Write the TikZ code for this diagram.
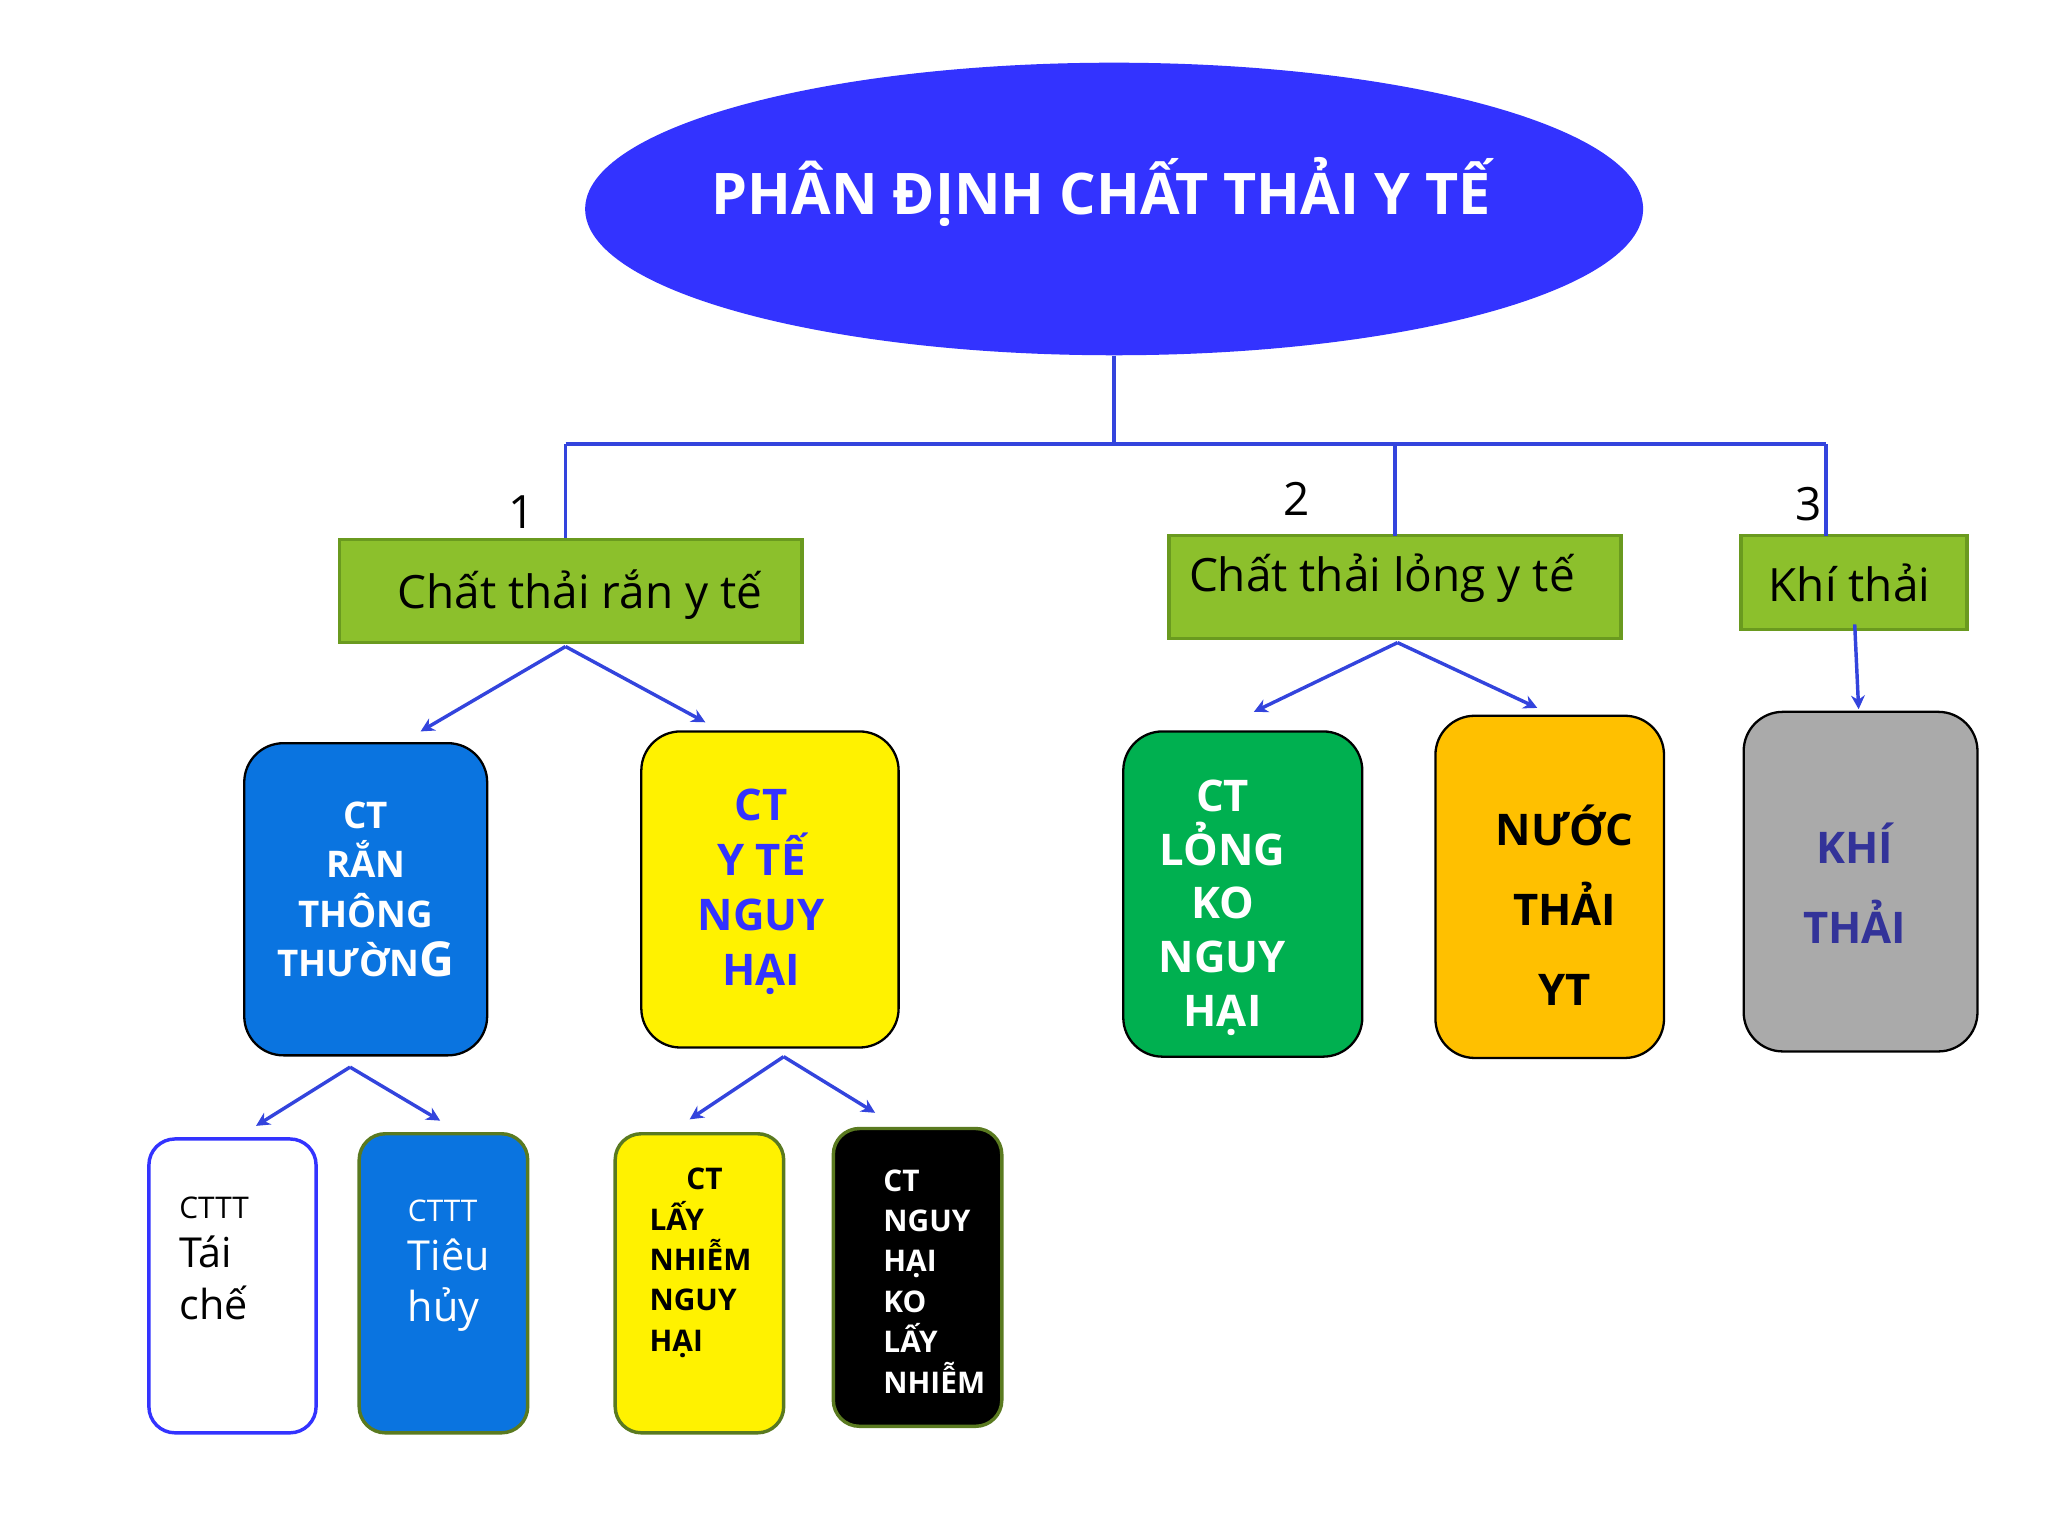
\documentclass[tikz,border=0pt]{standalone}
\usepackage{fontspec}
\setmainfont{Open Sans}
\usetikzlibrary{shapes.geometric,arrows.meta}
\definecolor{tblue}{HTML}{3333FF}
\definecolor{lblue}{HTML}{3344DD}
\definecolor{lgreen}{HTML}{8CC02C}
\definecolor{dgreen}{HTML}{6A9A1F}
\definecolor{bblue}{HTML}{0A74E0}
\definecolor{gg}{HTML}{00B050}
\definecolor{org}{HTML}{FFC000}
\definecolor{gry}{HTML}{AAAAAA}
\definecolor{navy}{HTML}{333399}
\definecolor{olive}{HTML}{5A7A20}
\tikzset{x=0.02cm,y=-0.02cm,
 cat/.style={draw=dgreen,line width=1.5pt,fill=lgreen},
 lab/.style={font=\fontsize{20}{24}\selectfont},
 rbox/.style={draw=black,line width=1pt,rounded corners=0.6cm},
 sbox/.style={line width=1.5pt,rounded corners=0.4cm},
 conn/.style={lblue,line width=1.5pt},
 arr/.style={conn,-{Stealth[length=6pt,width=6pt]}}}
\begin{document}
\begin{tikzpicture}
\useasboundingbox (0,0) rectangle (1568,1176);
\node[ellipse,fill=tblue,minimum width=810*0.02cm,minimum height=224*0.02cm] (title) at (853,160) {};
\node[text=white,font=\fontsize{25}{30}\selectfont\bfseries] (tt) at (843,147) {PHÂN ĐỊNH CHẤT THẢI Y TẾ};
\coordinate (j) at (853,340);
\coordinate (l) at (433,340);
\coordinate (m) at (1068,340);
\coordinate (r) at (1398,340);
% green boxes
\draw[cat] (260,413) rectangle (614,492);
\node[lab] (c1) at (444,455) {Chất thải rắn y tế};
\draw[cat] (895,410) rectangle (1241,489);
\node[lab] (c2) at (1058,443) {Chất thải lỏng y tế};
\draw[cat] (1333,410) rectangle (1506,482);
\node[lab] (c3) at (1416,446) {Khí thải};
\coordinate (c1t) at (433,412); \coordinate (c2t) at (1068,410); \coordinate (c3t) at (1398,410);
\draw[conn] (title.south) -- (j);
\draw[conn] (l) -- (r);
\draw[conn] (l) -- (c1t); \draw[conn] (m) -- (c2t); \draw[conn] (r) -- (c3t);
\node[lab] (n1) at (399,392) {1};
\node[lab] (n2) at (993,382) {2};
\node[lab] (n3) at (1385,386) {3};
% main rounded boxes
\draw[rbox,fill=bblue] (187,569) rectangle (373,808);
\node[text=white,align=center,font=\bfseries\fontsize{16}{21.5}\selectfont] (b1) at (280,681) {CT\\RẮN\\THÔNG\\THƯỜN{\fontsize{21}{21.5}\selectfont G}};
\draw[rbox,fill=yellow] (491,560) rectangle (688,802);
\node[text=tblue,align=center,font=\bfseries\fontsize{19}{24}\selectfont] (b2) at (583,683) {CT\\Y TẾ\\NGUY\\HẠI};
\draw[rbox,fill=gg] (860,560) rectangle (1043,809);
\node[text=white,align=center,font=\bfseries\fontsize{19}{23.5}\selectfont] (b3) at (936,695) {CT\\LỎNG\\KO\\NGUY\\HẠI};
\draw[rbox,fill=org] (1099,548) rectangle (1274,810);
\node[text=black,align=center,font=\bfseries\fontsize{19}{35}\selectfont] (b4) at (1198,693) {NƯỚC\\THẢI\\YT};
\draw[rbox,fill=gry] (1335,545) rectangle (1514,805);
\node[text=navy,align=center,font=\bfseries\fontsize{19}{35}\selectfont] (b5) at (1420,676) {KHÍ\\THẢI};
% arrows level 2
\coordinate (a1) at (433,495); \coordinate (a2) at (1070,492); \coordinate (a3) at (1420,478);
\coordinate (t1) at (322,560); \coordinate (t2) at (540,553);
\coordinate (t3) at (960,545); \coordinate (t4) at (1177,542); \coordinate (t5) at (1423,543);
\draw[arr] (a1) -- (t1); \draw[arr] (a1) -- (t2);
\draw[arr] (a2) -- (t3); \draw[arr] (a2) -- (t4);
\draw[arr] (a3) -- (t5);
% level 3 arrows
\coordinate (d1) at (268,817); \coordinate (d2) at (600,809);
\coordinate (u1) at (196,862); \coordinate (u2) at (337,858);
\coordinate (u3) at (528,857); \coordinate (u4) at (670,852);
\draw[arr] (d1) -- (u1); \draw[arr] (d1) -- (u2);
\draw[arr] (d2) -- (u3); \draw[arr] (d2) -- (u4);
% bottom boxes
\draw[sbox,draw=tblue,fill=white] (114,872) rectangle (242,1097);
\node[anchor=north west,align=left,inner sep=0pt,font=\fontsize{13}{16}\selectfont] (e1a) at (137,916) {CTTT};
\node[anchor=north west,align=left,inner sep=0pt,font=\fontsize{18}{22.5}\selectfont] (e1) at (137,946) {Tái\\chế};
\draw[sbox,draw=olive,fill=bblue] (275,868) rectangle (404,1097);
\node[anchor=north west,align=left,inner sep=0pt,text=white,font=\fontsize{13}{16}\selectfont] (e2a) at (312,918) {CTTT};
\node[anchor=north west,align=left,inner sep=0pt,text=white,font=\fontsize{18}{22.5}\selectfont] (e2) at (312,948) {Tiêu\\hủy};
\draw[sbox,draw=olive,fill=yellow] (471,868) rectangle (600,1097);
\node[anchor=north west,align=left,inner sep=0pt,font=\bfseries\fontsize{13}{17.6}\selectfont] (e3) at (497,894) {\hspace*{16pt}CT\\LẤY\\NHIỄM\\NGUY\\HẠI};
\draw[sbox,draw=olive,fill=black] (638,864) rectangle (767,1092);
\node[anchor=north west,align=left,inner sep=0pt,text=white,font=\bfseries\fontsize{13}{17.6}\selectfont] (e4) at (676,895) {CT\\NGUY\\HẠI\\KO\\LẤY\\NHIỄM};
\end{tikzpicture}
\end{document}
